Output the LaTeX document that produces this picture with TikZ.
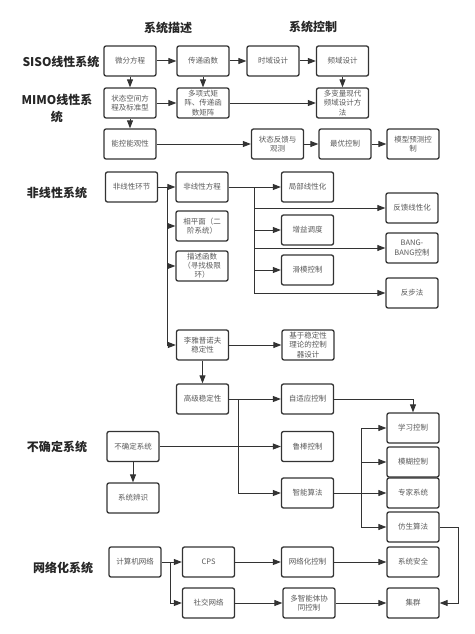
\documentclass[tikz,border=0pt]{standalone}
\usepackage{fontspec}
\setmainfont{Noto Sans CJK SC}
\usetikzlibrary{arrows.meta}
\definecolor{edge}{HTML}{333333}
\definecolor{word}{HTML}{5A5A5A}
\tikzset{
  box/.style={draw=edge,line width=1.3pt,rounded corners=2pt,fill=white,
    minimum width=52pt,minimum height=30pt,inner sep=1pt,align=center,
    text=word,font=\fontsize{7.5}{9.2}\selectfont},
  lab/.style={font=\fontsize{12}{17}\selectfont\bfseries,text=black!85,align=center},
  arr/.style={draw=edge,line width=1pt,-{Triangle[length=8pt,width=6pt]}},
  ln/.style={draw=edge,line width=1pt}
}

\begin{document}
\begin{tikzpicture}[x=1pt,y=-1pt]
\useasboundingbox (0,0) rectangle (474,634);
\node[lab] (hms) at (168,28) {系统描述};
\node[lab] (hkz) at (313,26.5) {系统控制};
\node[lab] (lsiso) at (61,62) {SISO线性系统};
\node[lab] (lmimo) at (57,108) {MIMO线性系\\统};
\node[lab] (lnl) at (57,193) {非线性系统};
\node[lab] (lunc) at (57,447) {不确定系统};
\node[lab] (lnet) at (63,568) {网络化系统};

\foreach \n/\x/\y/\txt in {
  wf/130/61/微分方程, cd/203/61/传递函数, sy/273/61/时域设计, py/342.5/61/频域设计,
  zt/130/103/{状态空间方\\程及标准型}, dx/203/103/{多项式矩\\阵、传递函\\数矩阵},
  db/342.5/103/{多变量现代\\频域设计方\\法},
  nk/130/144/能控能观性, zf/277.5/144/{状态反馈与\\观测}, yk/345/144/最优控制,
  mx/413/144/{模型预测控\\制}}
  \node[box] (\n) at (\x,\y) {\txt};

\foreach \n/\x/\y/\txt in {
  hj/131.5/187/非线性环节, fc/202/187/非线性方程, xpm/202/226/{相平面（二\\阶系统）},
  msh/202/266/{描述函数\\（寻找极限\\环）},
  jb/307.5/187/局部线性化, fk/412/208/反馈线性化, zy/307.5/230/增益调度,
  bb/412/248/{BANG-\\BANG控制}, hm/307.5/270/滑模控制, fb/412/293/反步法,
  lyap/202.5/345/{李雅普诺夫\\稳定性}, jy/308/345/{基于稳定性\\理论的控制\\器设计},
  gj/202.5/399/高级稳定性, zsy/307.5/399/自适应控制}
  \node[box] (\n) at (\x,\y) {\txt};

\foreach \n/\x/\y/\txt in {
  bq/133/446.5/不确定系统, bs/133/498/系统辨识, lb/307.5/446.5/鲁棒控制,
  zn/307.5/493/智能算法, xx/413/428/学习控制, mh/413/462/模糊控制,
  zj/413/493/专家系统, fs/413/527/仿生算法,
  jsj/135/562/计算机网络, cps/208.5/562/CPS, wlk/307.5/562/网络化控制,
  aq/413/562/系统安全, sj/208.5/603/社交网络, dz/309/603/{多智能体协\\同控制},
  jq/413/603/集群}
  \node[box] (\n) at (\x,\y) {\txt};

\draw[arr] (wf) -- (cd);
\draw[arr] (cd) -- (sy);
\draw[arr] (sy) -- (py);
\draw[arr] (wf) -- (zt);
\draw[arr] (cd) -- (dx);
\draw[arr] (py) -- (db);
\draw[arr] (zt) -- (dx);
\draw[arr] (dx) -- (db);
\draw[arr] (zt) -- (nk);
\draw[arr] (nk) -- (zf);
\draw[arr] (zf) -- (yk);
\draw[arr] (yk) -- (mx);

\coordinate (t1) at (167,187);
\draw[arr] (hj) -- (fc);
\foreach \m in {xpm,msh,lyap}
  \draw[arr] (t1) |- (\m.west);
\coordinate (t2) at (254,187);
\draw[arr] (fc) -- (jb);
\foreach \m in {fk,zy,bb,hm,fb}
  \draw[arr] (t2) |- (\m.west);
\draw[arr] (lyap) -- (jy);
\draw[arr] (lyap) -- (gj);

\coordinate (t3) at (238,399);
\draw[arr] (gj) -- (zsy);
\draw[arr] (t3) |- (zn.west);
\draw[arr] (zsy.east) -| (xx.north);
\draw[arr] (bq) -- (lb);
\draw[arr] (bq) -- (bs);
\coordinate (t4) at (361,493);
\draw[ln] (zn.east) -- (t4);
\foreach \m in {xx,mh,zj,fs}
  \draw[arr] (t4) |- (\m.west);
\coordinate (r1) at (458,527);
\draw[arr] (fs.east) -- (r1) |- (jq.east);

\coordinate (t5) at (170,562);
\draw[arr] (jsj) -- (cps);
\draw[arr] (t5) |- (sj.west);
\draw[arr] (cps) -- (wlk);
\draw[arr] (wlk) -- (aq);
\draw[arr] (sj) -- (dz);
\draw[arr] (dz) -- (jq);
\end{tikzpicture}
\end{document}
